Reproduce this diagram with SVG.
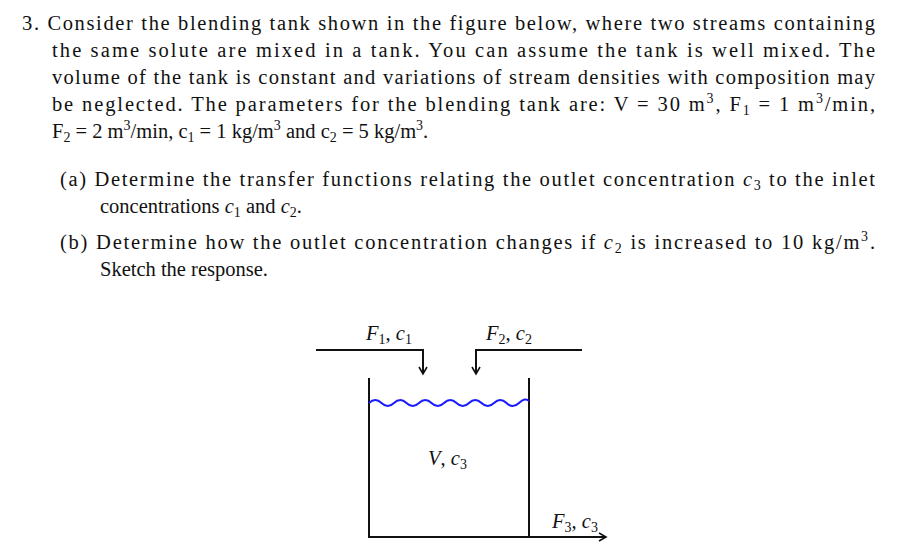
<svg xmlns="http://www.w3.org/2000/svg" width="922" height="551" viewBox="0 0 922 551">
<style>
text{font-family:"Liberation Serif","DejaVu Serif",serif;font-size:20.5px;fill:#111}
.i{font-style:italic}
.s{font-size:14px}
.ln{stroke:#111;stroke-width:2;fill:none}
</style>
<defs><marker id="ar" markerWidth="10" markerHeight="10" refX="8" refY="5" orient="auto" markerUnits="userSpaceOnUse"><path d="M1,1 L8,5 L1,9" fill="none" stroke="#111" stroke-width="1.6"/></marker></defs>
<g id="problem">
<text x="22" y="30" textLength="853" lengthAdjust="spacing">3. Consider the blending tank shown in the figure below, where two streams containing</text>
<text x="52" y="57" textLength="823" lengthAdjust="spacing">the same solute are mixed in a tank. You can assume the tank is well mixed. The</text>
<text x="52" y="84" textLength="823" lengthAdjust="spacing">volume of the tank is constant and variations of stream densities with composition may</text>
<text x="52" y="111" textLength="823" lengthAdjust="spacing">be neglected. The parameters for the blending tank are: V = 30 m<tspan class="s" dy="-8">3</tspan><tspan dy="8">, F</tspan><tspan class="s" dy="4">1</tspan><tspan dy="-4"> = 1 m</tspan><tspan class="s" dy="-8">3</tspan><tspan dy="8">/min,</tspan></text>
<text x="52" y="138">F<tspan class="s" dy="4">2</tspan><tspan dy="-4"> = 2 m</tspan><tspan class="s" dy="-8">3</tspan><tspan dy="8">/min, c</tspan><tspan class="s" dy="4">1</tspan><tspan dy="-4"> = 1 kg/m</tspan><tspan class="s" dy="-8">3</tspan><tspan dy="8"> and c</tspan><tspan class="s" dy="4">2</tspan><tspan dy="-4"> = 5 kg/m</tspan><tspan class="s" dy="-8">3</tspan><tspan dy="8">.</tspan></text>
<text x="60" y="186" textLength="815" lengthAdjust="spacing">(a) Determine the transfer functions relating the outlet concentration <tspan class="i">c</tspan><tspan class="s" dy="4">3</tspan><tspan dy="-4"> to the inlet</tspan></text>
<text x="100" y="213">concentrations <tspan class="i">c</tspan><tspan class="s" dy="4">1</tspan><tspan dy="-4"> and </tspan><tspan class="i">c</tspan><tspan class="s" dy="4">2</tspan><tspan dy="-4">.</tspan></text>
<text x="60" y="249" textLength="815" lengthAdjust="spacing">(b) Determine how the outlet concentration changes if <tspan class="i">c</tspan><tspan class="s" dy="4">2</tspan><tspan dy="-4"> is increased to 10 kg/m</tspan><tspan class="s" dy="-8">3</tspan><tspan dy="8">.</tspan></text>
<text x="100" y="276">Sketch the response.</text>
</g>
<g id="tank">
<path class="ln" d="M369,378 V537 H529 V378"/>
<path d="M369,403 q6.25,-6 12.5,0 t12.5,0 t12.5,0 t12.5,0 t12.5,0 t12.5,0 t12.5,0 t12.5,0 t12.5,0 t12.5,0 t12.5,0 t12.5,0 t10,-2" fill="none" stroke="#1a1aff" stroke-width="2"/>
<text class="i" x="428" y="465">V<tspan style="font-style:normal">, </tspan>c<tspan class="s" style="font-style:normal" dy="4">3</tspan></text>
</g>
<g id="connectors">
<path class="ln" d="M316,350 H423 V374" marker-end="url(#ar)"/>
<path class="ln" d="M582,350 H476 V374" marker-end="url(#ar)"/>
<path class="ln" d="M529,537 H606" marker-end="url(#ar)"/>
</g>
<g id="labels">
<text class="i" x="366" y="340">F<tspan class="s" style="font-style:normal" dy="4">1</tspan><tspan style="font-style:normal" dy="-4">, </tspan>c<tspan class="s" style="font-style:normal" dy="4">1</tspan></text>
<text class="i" x="486" y="340">F<tspan class="s" style="font-style:normal" dy="4">2</tspan><tspan style="font-style:normal" dy="-4">, </tspan>c<tspan class="s" style="font-style:normal" dy="4">2</tspan></text>
<text class="i" x="552" y="528">F<tspan class="s" style="font-style:normal" dy="4">3</tspan><tspan style="font-style:normal" dy="-4">, </tspan>c<tspan class="s" style="font-style:normal" dy="4">3</tspan></text>
</g>
</svg>
